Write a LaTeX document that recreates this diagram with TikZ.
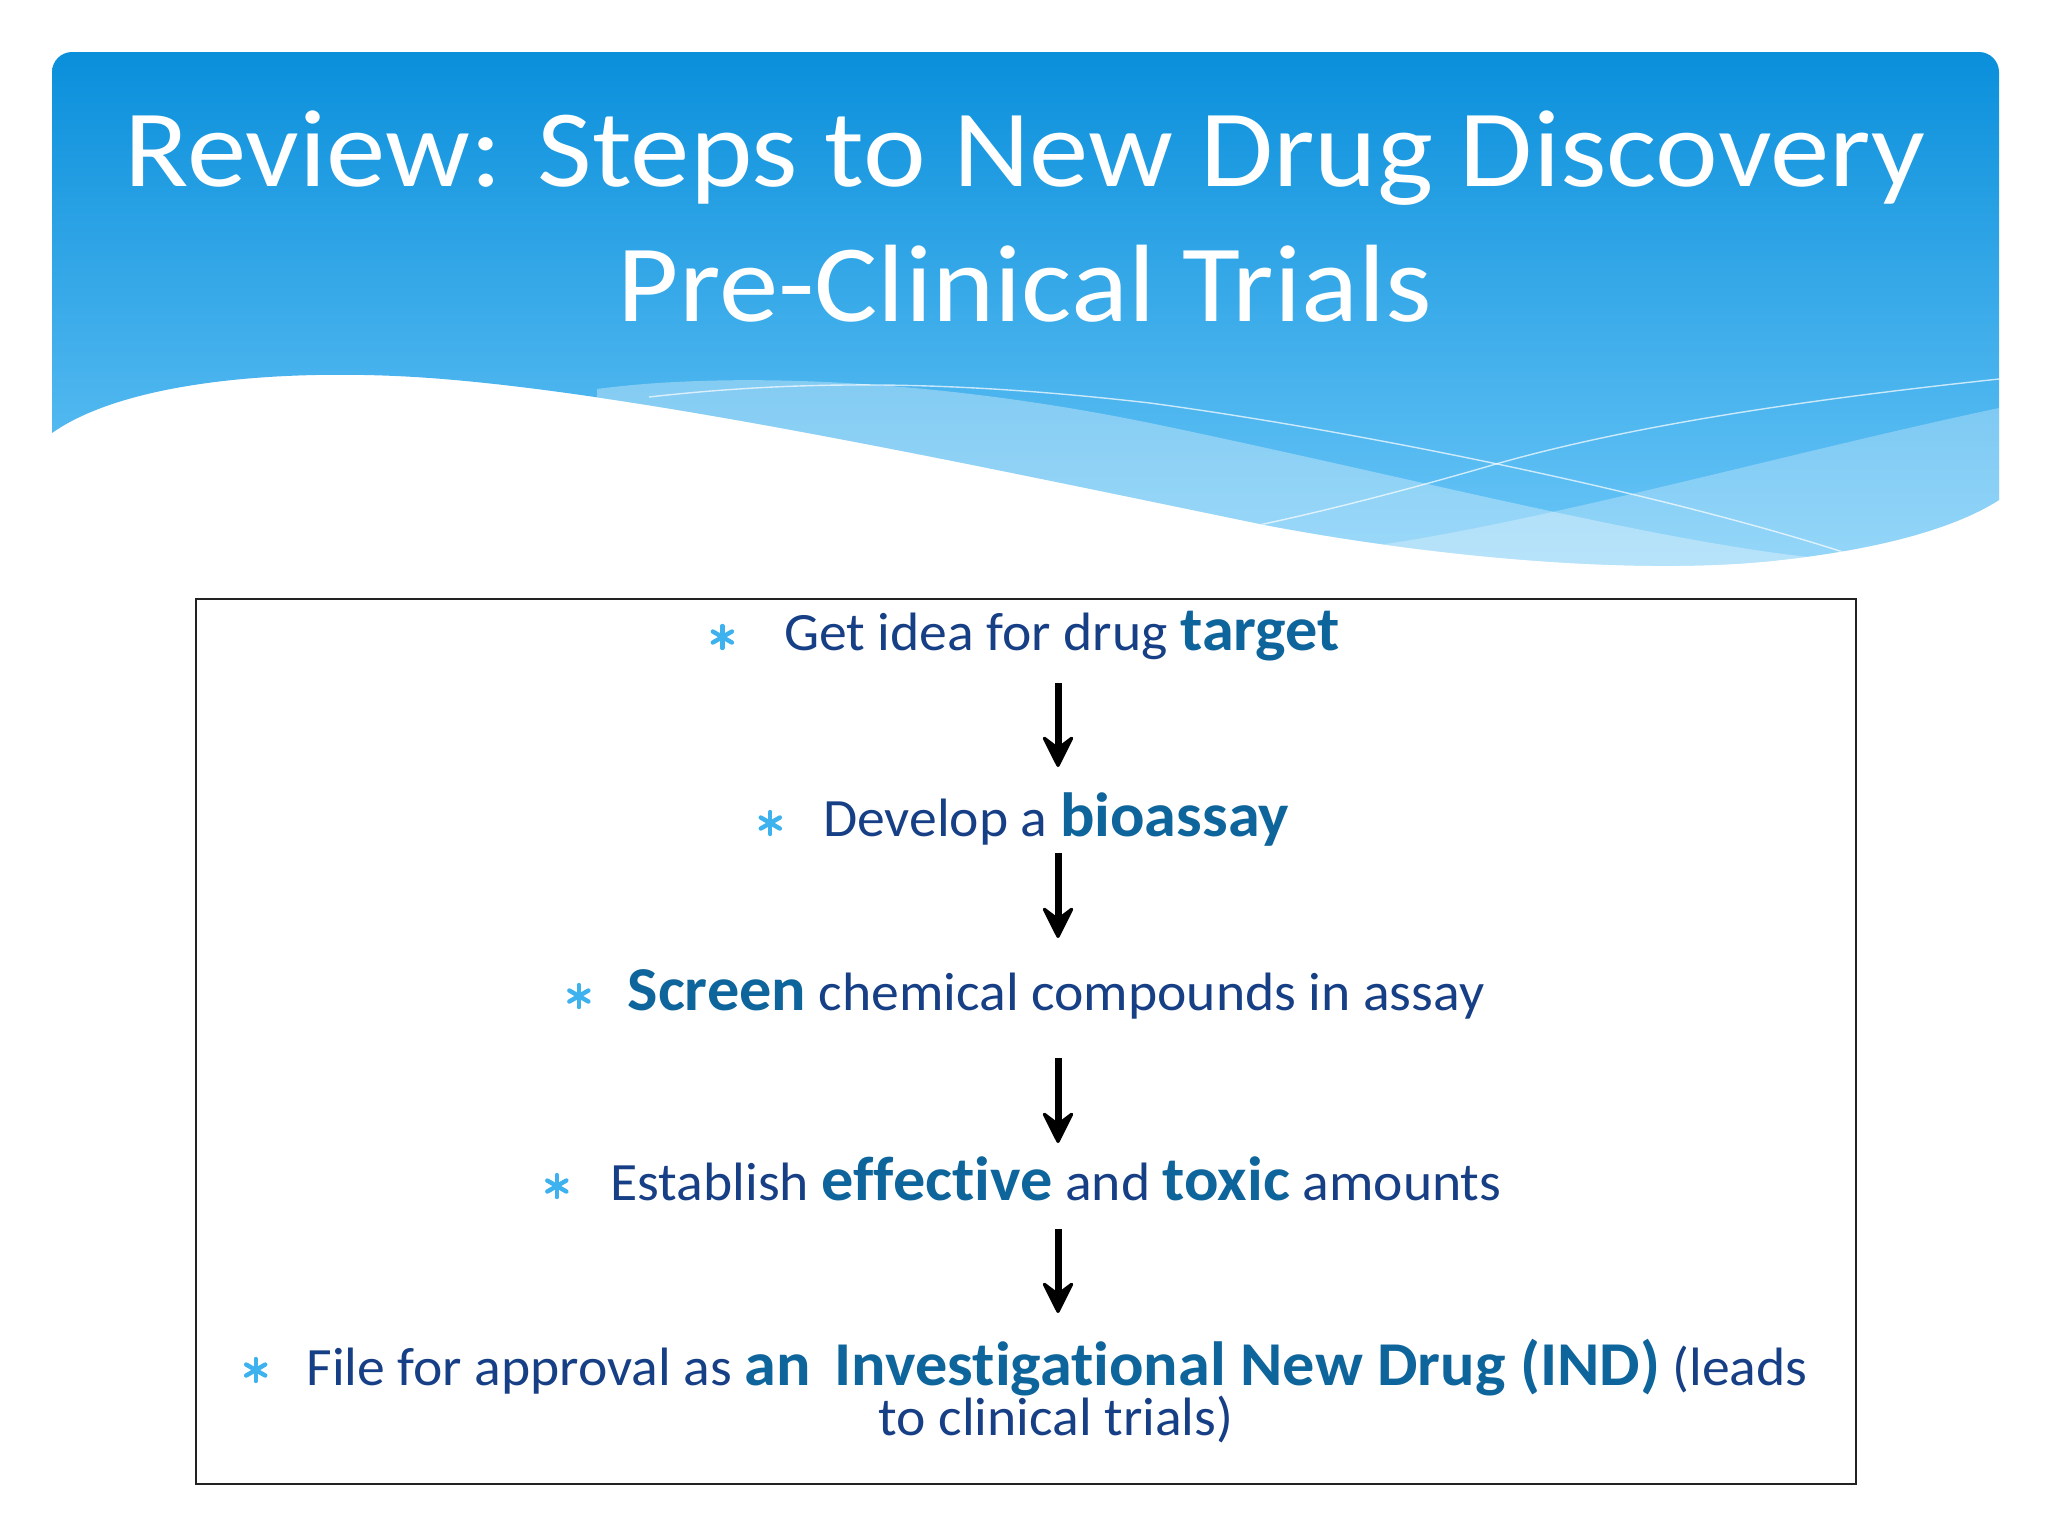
\documentclass[tikz,border=0pt]{standalone}
\usepackage{fontspec}
\setmainfont{Carlito}[FakeStretch=1.08, Ligatures=NoCommon]
\newfontfamily\bodyfont{Carlito}[FakeStretch=1.03, Ligatures=NoCommon]
\usetikzlibrary{arrows.meta,calc}
\definecolor{regc}{HTML}{173F86}
\definecolor{boldc}{HTML}{0E659C}
\definecolor{bulc}{HTML}{3DB2EE}
\definecolor{hdtop}{HTML}{0A8FDB}
\definecolor{hdbot}{HTML}{6DC8F8}
\definecolor{framec}{HTML}{222222}
\newcommand\bt[1]{{\fontsize{15.6pt}{18pt}\selectfont\bfseries\color{boldc}#1}}
\newcommand\astbul[1]{\foreach \ang in {90,30,150}{\draw[bulstyle] ($(#1)+(\ang:11)$) -- ($(#1)+(\ang+180:11)$);}}
\begin{document}
\begin{tikzpicture}[x=0.25pt,y=-0.25pt,
  txt/.style={anchor=base, inner sep=0pt, text=regc, font=\bodyfont\fontsize{13.5pt}{16pt}\selectfont},
  titletxt/.style={anchor=base, inner sep=0pt, text=white, font=\fontsize{27.5pt}{32pt}\selectfont},
  arr/.style={line width=1.75pt, draw=black, -{Stealth[length=9pt,width=9pt,inset=3.4pt,round,line width=0.8pt]}},
  bulstyle/.style={draw=bulc, line width=1.1pt, line cap=round},
  thinline/.style={draw=white, draw opacity=0.7, line width=0.35pt}]
\useasboundingbox (0,0) rectangle (2048,1536);
\fill[white] (0,0) rectangle (2048,1536);
% header
\def\headerpath{(52,433) -- (52,72) .. controls (52,61) and (61,52) .. (72,52) -- (1979,52) .. controls (1990,52) and (1999,61) .. (1999,72) -- (1999,500) .. controls (1960,525) and (1890,548) .. (1780,560) .. controls (1650,575) and (1450,560) .. (1265,525) .. controls (950,460) and (600,385) .. (396,376) .. controls (260,370) and (120,385) .. (52,433) -- cycle}
\shade[top color=hdtop, bottom color=hdbot] \headerpath;
\begin{scope}
  \clip \headerpath;
  \fill[white, fill opacity=0.33] (597,389) .. controls (700,375) and (900,372) .. (1150,423) .. controls (1400,475) and (1650,540) .. (1809,557) -- (1809,700) -- (597,700) -- cycle;
  \fill[white, fill opacity=0.28] (1999,408) .. controls (1800,450) and (1550,520) .. (1379,545) -- (1379,700) -- (2000,700) -- cycle;
  \draw[thinline] (649,397) .. controls (800,380) and (950,380) .. (1150,403) .. controls (1350,430) and (1650,490) .. (1843,552);
  \draw[thinline] (1999,379) .. controls (1850,395) and (1650,420) .. (1496,464) .. controls (1400,492) and (1320,512) .. (1259,525);
\end{scope}
\node[titletxt] (title1) at (1025,186) {Review: Steps to New Drug Discovery};
\node[titletxt] (title2) at (1025,321) {Pre-Clinical Trials};
% frame
\draw[framec, line width=0.65pt] (196,599) rectangle (1856,1484);
% steps
\node[txt] (t1) at (1062,650) {Get idea for drug \bt{target}};
\node[txt] (t2) at (1056,836) {Develop a \bt{bioassay}};
\node[txt] (t3) at (1056,1010) {\bt{Screen} chemical compounds in assay};
\node[txt] (t4) at (1056,1200) {Establish \bt{effective} and \bt{toxic} amounts};
\node[txt] (t5) at (1057,1385) {File for approval as \bt{an\hspace{0.38em}Investigational New Drug (IND)} (leads};
\node[txt] (t5b) at (1056,1435) {to clinical trials)};
% bullets
\coordinate (b1) at ($(t1.base west)+(-61,-13)$);
\coordinate (b2) at ($(t2.base west)+(-52,-13)$);
\coordinate (b3) at ($(t3.base west)+(-48,-14)$);
\coordinate (b4) at ($(t4.base west)+(-53,-14)$);
\coordinate (b5) at ($(t5.base west)+(-50,-15)$);
\astbul{b1}\astbul{b2}\astbul{b3}\astbul{b4}\astbul{b5}
% arrows
\coordinate (ax) at (1058,0);
\draw[arr] ($(t1.base -| ax)+(0,33)$) -- ($(t2.base -| ax)+(0,-69)$);
\draw[arr] ($(t2.base -| ax)+(0,17)$) -- ($(t3.base -| ax)+(0,-72)$);
\draw[arr] ($(t3.base -| ax)+(0,48)$) -- ($(t4.base -| ax)+(0,-57)$);
\draw[arr] ($(t4.base -| ax)+(0,29)$) -- ($(t5.base -| ax)+(0,-72)$);
\end{tikzpicture}
\end{document}
